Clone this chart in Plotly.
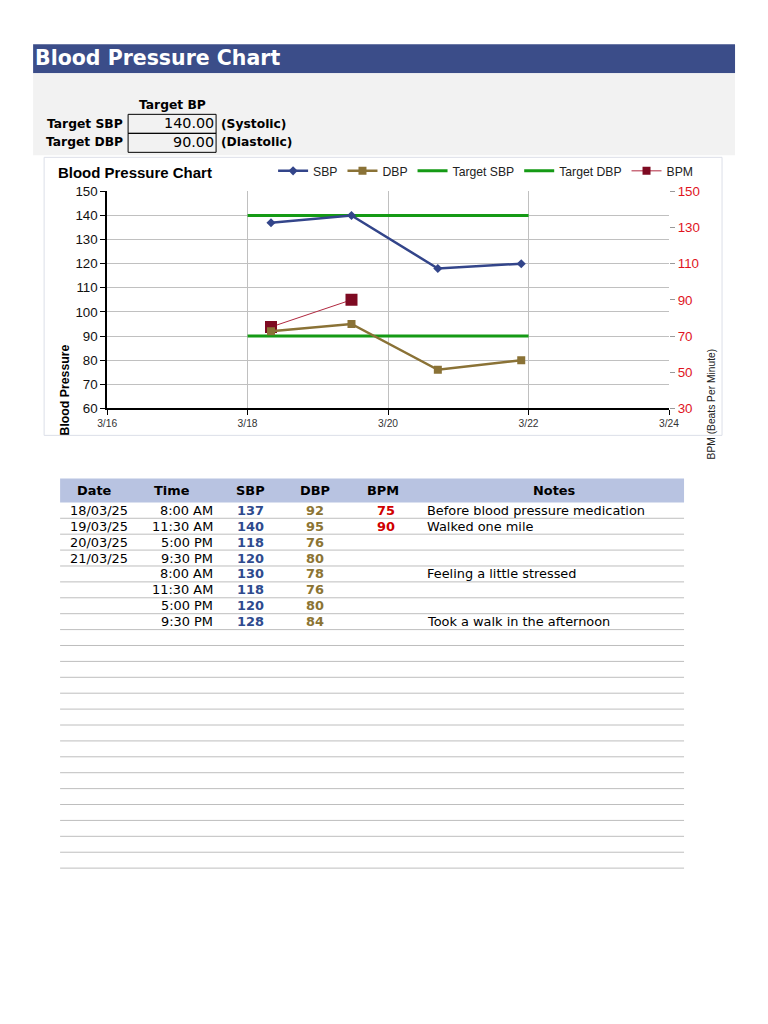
import pandas as pd
import plotly.graph_objects as go

# page is 768x1024; the browser body keeps its default 8px margin
OX, OY = 8, 8
W, H = 768 - 2 * OX, 1024 - 2 * OY
# measured photo mapping (page px -> photo px), compensated below
SX, BX = 0.9735, 10.1
SY, BY = 0.985, 6.8
FS = 1 / 0.975

# ---------------- data ----------------
target_sbp = 140.00
target_dbp = 90.00
row_dates = ["18/03/25", "19/03/25", "20/03/25", "21/03/25", "", "", "", ""]
row_times = ["8:00 AM", "11:30 AM", "5:00 PM", "9:30 PM", "8:00 AM", "11:30 AM", "5:00 PM", "9:30 PM"]
row_sbp = [137, 140, 118, 120, 130, 118, 120, 128]
row_dbp = [92, 95, 76, 80, 78, 76, 80, 84]
row_bpm = [75, 90, None, None, None, None, None, None]
row_notes = ["Before blood pressure medication", "Walked one mile", "", "",
             "Feeling a little stressed", "", "", "Took a walk in the afternoon"]
target_dates = ["2025-03-18", "2025-03-22"]
x_range = ["2025-03-16", "2025-03-24"]
header_labels = ["Date", "Time", "SBP", "DBP", "BPM", "Notes"]
n_table_rows = 23

# chart points = rows that carry a date
chart_rows = [i for i, d in enumerate(row_dates) if d]
chart_x = [pd.to_datetime(row_dates[i] + " " + row_times[i], format="%d/%m/%y %I:%M %p") for i in chart_rows]
chart_sbp = [row_sbp[i] for i in chart_rows]
chart_dbp = [row_dbp[i] for i in chart_rows]
bpm_rows = [i for i in chart_rows if row_bpm[i] is not None]
chart_bpm_x = [chart_x[chart_rows.index(i)] for i in bpm_rows]
chart_bpm = [row_bpm[i] for i in bpm_rows]

# ---------------- helpers (photo pixels -> paper fraction) ----------------
def px(x):
    return ((x - BX) / SX - OX) / W

def py(y):
    return 1 - ((y - BY) / SY - OY) / H

def fs(s):
    return s * FS

TFONT = "DejaVu Sans"
CFONT = "Liberation Sans, Arial, sans-serif"

C_SBP = "#33458A"
C_DBP = "#8A7236"
C_GREEN = "#159A15"
C_BPM_LINE = "#B0283F"
C_BPM_MK = "#7E0A22"

fig = go.Figure()

# BPM on main y (drawn underneath), BP on overlaying y2
fig.add_trace(go.Scatter(x=chart_bpm_x, y=chart_bpm, name="BPM", mode="lines+markers",
                         line=dict(color=C_BPM_LINE, width=1),
                         marker=dict(symbol="square", size=12, color=C_BPM_MK),
                         yaxis="y", showlegend=False))
fig.add_trace(go.Scatter(x=target_dates, y=[target_sbp] * len(target_dates), name="Target SBP",
                         mode="lines", line=dict(color=C_GREEN, width=3), yaxis="y2", legendrank=3))
fig.add_trace(go.Scatter(x=target_dates, y=[target_dbp] * len(target_dates), name="Target DBP",
                         mode="lines", line=dict(color=C_GREEN, width=3), yaxis="y2", legendrank=4))
fig.add_trace(go.Scatter(x=chart_x, y=chart_sbp, name="SBP", mode="lines+markers",
                         line=dict(color=C_SBP, width=2.5),
                         marker=dict(symbol="diamond", size=7, color=C_SBP),
                         yaxis="y2", legendrank=1))
fig.add_trace(go.Scatter(x=chart_x, y=chart_dbp, name="DBP", mode="lines+markers",
                         line=dict(color=C_DBP, width=2.5),
                         marker=dict(symbol="square", size=8, color=C_DBP),
                         yaxis="y2", legendrank=2))
# legend entry for BPM with a smaller swatch than the plotted markers
fig.add_trace(go.Scatter(x=[None], y=[None], name="BPM", mode="lines+markers",
                         line=dict(color=C_BPM_LINE, width=1),
                         marker=dict(symbol="square", size=8, color=C_BPM_MK),
                         yaxis="y", legendrank=5))

shapes = []
def rect(x0, y0, x1, y1, fill="rgba(0,0,0,0)", lc="rgba(0,0,0,0)", lw=0):
    shapes.append(dict(type="rect", xref="paper", yref="paper", x0=px(x0), x1=px(x1),
                       y0=py(y1), y1=py(y0), fillcolor=fill, line=dict(color=lc, width=lw),
                       layer="below"))

def hline(x0, x1, y, color="#BEBEBE", w=1):
    shapes.append(dict(type="line", xref="paper", yref="paper", x0=px(x0), x1=px(x1),
                       y0=py(y), y1=py(y), line=dict(color=color, width=w), layer="below"))

rect(33, 44, 735, 73, fill="#3B4D89")
rect(33, 73, 735, 155, fill="#F2F2F2")
rect(128, 114, 216, 133, lc="#000000", lw=1)
rect(128, 133, 216, 152, lc="#000000", lw=1)
rect(44, 157, 722, 435, fill="#FFFFFF", lc="#DCDFE8", lw=1)
rect(60, 478, 684, 502, fill="#B8C3E1")
row_h = 15.9
for k in range(1, n_table_rows + 1):
    hline(60, 684, 502 + k * row_h)

ann = []
def text(x, y, s, size=13, color="#000000", bold=False, anchor="left", family=TFONT, angle=0):
    ann.append(dict(x=px(x), y=py(y), xref="paper", yref="paper", text=f"<b>{s}</b>" if bold else s,
                    showarrow=False, xanchor=anchor, yanchor="middle", textangle=angle,
                    font=dict(family=family, size=fs(size), color=color)))

# page header
text(33, 58, "Blood Pressure Chart", size=20, color="#FFFFFF", bold=True)
text(172, 105, "Target BP", size=12, bold=True, anchor="center")
text(125, 124, "Target SBP", size=12, bold=True, anchor="right")
text(125, 142, "Target DBP", size=12, bold=True, anchor="right")
text(216, 123, f"{target_sbp:.2f}", size=14, anchor="right")
text(216, 142, f"{target_dbp:.2f}", size=14, anchor="right")
text(219, 124, "(Systolic)", size=12, bold=True)
text(219, 142, "(Diastolic)", size=12, bold=True)

# chart texts
text(56, 172, "Blood Pressure Chart", size=14.6, bold=True, family=CFONT)
text(65, 390, "Blood Pressure", size=12, bold=True, family=CFONT, anchor="center", angle=-90)
text(711, 404, "BPM (Beats Per Minute)", size=10, color="#222222", family=CFONT, anchor="center", angle=-90)

# table
TS = 12.6
hx = [94, 172, 250, 315, 383, 554]
for lab, x in zip(header_labels, hx):
    text(x, 490, lab, size=TS, bold=True, anchor="center")
for i in range(len(row_times)):
    y = 502 + (i + 0.5) * row_h
    if row_dates[i]:
        text(68, y, row_dates[i], size=TS)
    text(215, y, row_times[i], size=TS, anchor="right")
    text(250, y, str(row_sbp[i]), size=TS, color="#2E4A8E", bold=True, anchor="center")
    text(315, y, str(row_dbp[i]), size=TS, color="#8C7433", bold=True, anchor="center")
    if row_bpm[i] is not None:
        text(386, y, str(row_bpm[i]), size=TS, color="#D00000", bold=True, anchor="center")
    if row_notes[i]:
        text(425, y, row_notes[i], size=TS)

fig.update_layout(
    width=W, height=H, autosize=False,
    margin=dict(l=0, r=0, t=0, b=0),
    paper_bgcolor="#FFFFFF", plot_bgcolor="rgba(0,0,0,0)",
    shapes=shapes, annotations=ann,
    showlegend=True,
    legend=dict(orientation="h", x=px(273), y=py(156), xanchor="left", yanchor="top",
                font=dict(family=CFONT, size=fs(11.9), color="#222222"), bgcolor="rgba(0,0,0,0)",
                itemwidth=30, traceorder="normal"),
    xaxis=dict(domain=[px(107), px(669)], type="date", range=x_range,
               dtick=2 * 86400000, tick0="2025-03-16", tickformat="%-m/%d",
               showgrid=True, gridcolor="#C0C0C0", gridwidth=1,
               showline=True, linecolor="#000000", linewidth=1.5,
               ticks="outside", ticklen=5, tickcolor="#000000",
               tickfont=dict(family=CFONT, size=fs(10), color="#333333"),
               anchor="y", zeroline=False, fixedrange=True),
    yaxis=dict(domain=[py(408), py(191)], range=[30, 150], dtick=20, tick0=30,
               side="right", showgrid=False, showline=False, zeroline=False,
               ticks="outside", ticklen=5, tickcolor="#999999",
               tickfont=dict(family=CFONT, size=fs(13), color="#E0141E"), anchor="x"),
    yaxis2=dict(range=[60, 150], dtick=10, tick0=60, overlaying="y", side="left",
                showgrid=True, gridcolor="#C0C0C0", gridwidth=1,
                showline=True, linecolor="#000000", linewidth=1.5, zeroline=False,
                ticks="outside", ticklen=5, tickcolor="#000000",
                tickfont=dict(family=CFONT, size=fs(13), color="#111111"), anchor="x"),
)

fig.write_html("out.html", config={"displayModeBar": False})
